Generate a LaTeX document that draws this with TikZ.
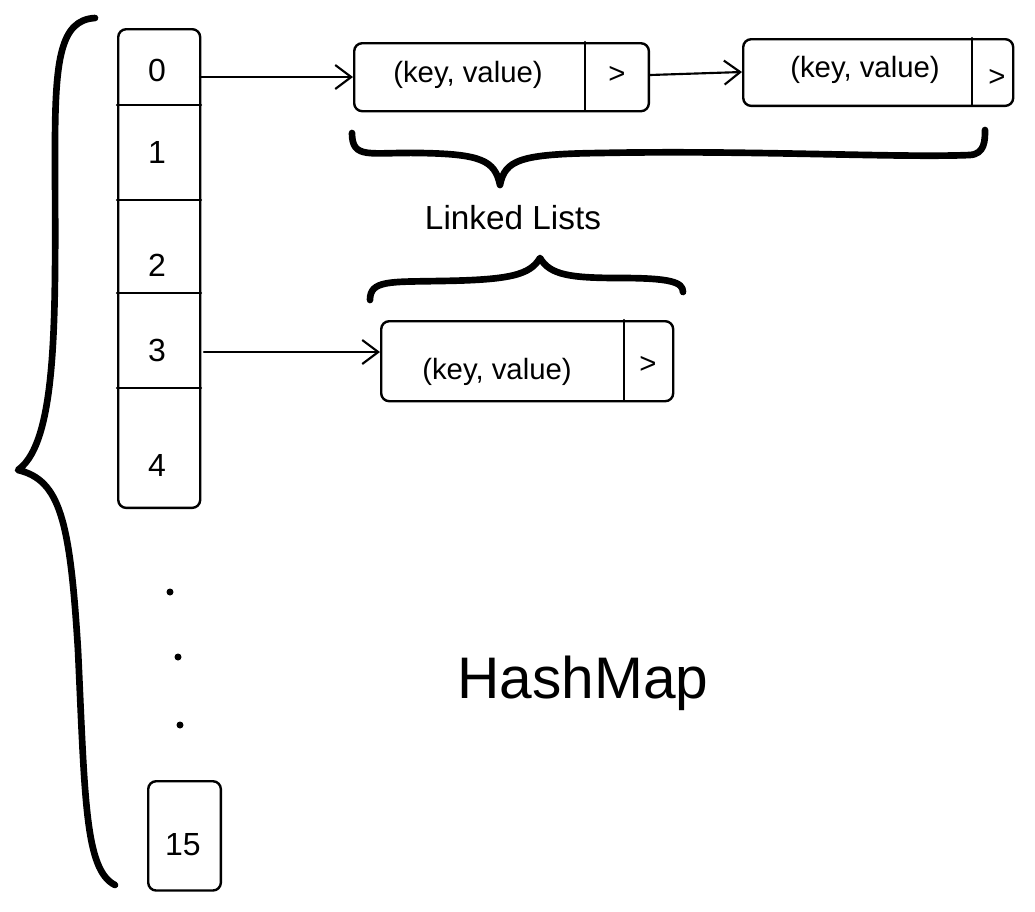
\documentclass[tikz,border=0pt]{standalone}
\usepackage{fontspec}
\setmainfont{Liberation Sans}
\usetikzlibrary{arrows.meta}
\begin{document}
\begin{tikzpicture}[x=0.75pt,y=-0.75pt,line width=1.8pt,line cap=round,line join=round,
  box/.style={draw,rounded corners=6pt},
  lbl/.style={font=\fontsize{24}{28}\selectfont},
  kv/.style={font=\fontsize{22}{26}\selectfont},
  arr/.style={-{Straight Barb[length=12pt,width=18pt]},line width=1.6pt},
  brace/.style={line width=5pt}]
\useasboundingbox (0,0) rectangle (1035,911);
% array
\node[box,minimum width=61.5pt,minimum height=359pt,anchor=north west] (arr) at (117,28) {};
\foreach \y in {105,200,293,388} \draw (117,\y) -- (201,\y);
\node[lbl] (l0) at (157,70) {0};
\node[lbl] (l1) at (157,152) {1};
\node[lbl] (l2) at (157,265) {2};
\node[lbl] (l3) at (157,350) {3};
\node[lbl] (l4) at (157,465) {4};
\coordinate (s0) at (200,77);
\coordinate (s3) at (204,352);
% dots
\foreach \x/\y [count=\i] in {170/592,178/657,180/725} \fill (\x,\y) circle (3.5);
\node[box,minimum width=54.5pt,minimum height=82pt,anchor=north west] (b15) at (147,780) {};
\node[lbl] at (183,845) {15};
% lists
\node[box,minimum width=221pt,minimum height=51pt,anchor=north west] (n1) at (353,42) {};
\draw (585,42) -- (585,110);
\node[kv] at (468,75) {(key, value)};
\node[kv] at (617,75) {>};
\node[box,minimum width=202.5pt,minimum height=50pt,anchor=north west] (n2) at (742,38) {};
\draw (972,38) -- (972,105);
\node[kv] at (865,70) {(key, value)};
\node[kv] at (997,78) {>};
\node[box,minimum width=219pt,minimum height=60pt,anchor=north west] (n3) at (380,320) {};
\draw (624,320) -- (624,400);
\node[kv] at (497,372) {(key, value)};
\node[kv] at (648,365) {>};
\draw[arr] (s0) -- (n1.west |- s0);
\draw[arr] (n1.east |- 0,75) -- (n2.west |- 0,72);
\draw[arr] (s3) -- (n3.west |- s3);
% braces
\draw[brace] (352,133) .. controls (352,160) and (370,152) .. (420,153) .. controls (480,154) and (495,160) .. (500,185)
  .. controls (505,160) and (520,154) .. (600,153) .. controls (750,150) and (900,158) .. (970,155) .. controls (985,154) and (985,140) .. (985,130);
\node[font=\fontsize{25}{30}\selectfont] at (513,218) {Linked Lists};
\draw[brace] (370,300) .. controls (370,280) and (390,282) .. (440,281) .. controls (510,280) and (530,275) .. (540,258)
  .. controls (550,275) and (570,278) .. (620,278) .. controls (670,278) and (683,282) .. (683,292);
\node[font=\fontsize{44}{50}\selectfont] at (583,683) {HashMap};
\draw[line width=5pt] (95,18) .. controls (60,20) and (55,60) .. (55,150) .. controls (55,300) and (60,440) .. (18,470)
  .. controls (60,480) and (70,520) .. (78,650) .. controls (85,800) and (85,870) .. (115,885);
\end{tikzpicture}
\end{document}
